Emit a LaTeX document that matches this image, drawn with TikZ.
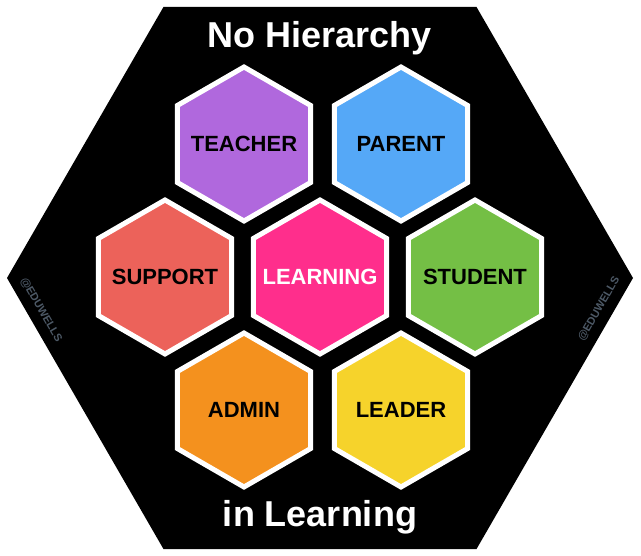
\documentclass[tikz,border=0pt]{standalone}
\usepackage{fontspec}
\setmainfont{Liberation Sans}
\usetikzlibrary{shapes.geometric}

\definecolor{teachercol}{HTML}{B068DD}
\definecolor{parentcol}{HTML}{55A8F7}
\definecolor{supportcol}{HTML}{EC625A}
\definecolor{learningcol}{HTML}{FF2E8C}
\definecolor{studentcol}{HTML}{74BF45}
\definecolor{admincol}{HTML}{F4911E}
\definecolor{leadercol}{HTML}{F6D32B}
\definecolor{creditcol}{HTML}{4D5966}

\newcommand{\celltext}[1]{\makebox[0pt]{#1}}

\begin{document}
\begin{tikzpicture}[x=1pt, y=-1pt,
      board/.style = {shape=regular polygon, regular polygon sides=6,
        minimum size=626pt, inner sep=0pt, fill=black},
      hexcell/.style = {shape=regular polygon, regular polygon sides=6,
        shape border rotate=30, minimum size=154pt, inner sep=0pt,
        draw=white, line width=5pt,
        font=\fontsize{22}{26}\selectfont\bfseries},
      headline/.style = {anchor=base, text=white, inner sep=0pt,
        font=\fontsize{36}{40}\selectfont\bfseries},
      credit/.style = {text=creditcol, inner sep=0pt,
        font=\fontsize{11}{13}\selectfont\bfseries}]
  \path[fill=white, use as bounding box] (0,0) rectangle (641,556);
  \node[board] (board) at (320,278) {};
  % title
  \node[headline] (top) at (320,48) {No Hierarchy};
  \node[headline] (bottom) at (320,527) {in Learning};
  % honeycomb
  \node[hexcell, fill=teachercol] (teacher) at (244,144) {\celltext{TEACHER}};
  \node[hexcell, fill=parentcol] (parent) at (401,144) {\celltext{PARENT}};
  \node[hexcell, fill=supportcol] (support) at (165,277) {\celltext{SUPPORT}};
  \node[hexcell, fill=learningcol, text=white] (learning) at (320,277) {\celltext{LEARNING}};
  \node[hexcell, fill=studentcol] (student) at (475,277) {\celltext{STUDENT}};
  \node[hexcell, fill=admincol] (admin) at (244,410) {\celltext{ADMIN}};
  \node[hexcell, fill=leadercol] (leader) at (401,410) {\celltext{LEADER}};
  % watermarks
  \node[credit, rotate=-60] (creditl) at (41,310) {@EDUWELLS};
  \node[credit, rotate=60] (creditr) at (599,309) {@EDUWELLS};
\end{tikzpicture}
\end{document}
